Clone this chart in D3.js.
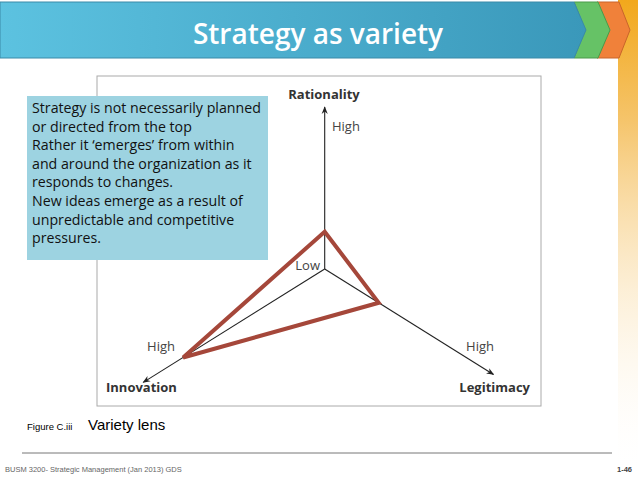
<!DOCTYPE html>
<html><head><meta charset="utf-8">
<script src="https://cdn.jsdelivr.net/npm/d3@7"></script>
<style>body{margin:0;background:#fff}</style>
</head><body>
<svg id="c" width="638" height="478"></svg>
<script>
// axes of the variety lens
const axes = ["Rationality", "Innovation", "Legitimacy"];
const axisAngles = [0, 238, 122];      // degrees, clockwise from up
const axisReach = [162, 214, 199];     // arrow length
const lensValues = [0.23, 0.78, 0.32]; // share of each axis
const noteLines = [
  "Strategy is not necessarily planned",
  "or directed from the top",
  "Rather it \u2018emerges\u2019 from within",
  "and around the organization as it",
  "responds to changes.",
  "New ideas emerge as a result of",
  "unpredictable and competitive",
  "pressures."
];

const svg = d3.select("#c");
const defs = svg.append("defs");
const g1 = defs.append("linearGradient").attr("id", "hd");
g1.append("stop").attr("offset", 0).attr("stop-color", "#5cc2e0");
g1.append("stop").attr("offset", 1).attr("stop-color", "#3a98ba");
const g2 = defs.append("linearGradient").attr("id", "yl").attr("x2", 0).attr("y2", 1);
g2.append("stop").attr("offset", 0).attr("stop-color", "#f2a81c");
g2.append("stop").attr("offset", 0.25).attr("stop-color", "#f5c46a");
g2.append("stop").attr("offset", 1).attr("stop-color", "#fff").attr("stop-opacity", 0);
defs.append("marker").attr("id", "ar").attr("viewBox", "0 0 10 10").attr("refX", 9).attr("refY", 5)
  .attr("markerWidth", 7).attr("markerHeight", 7).attr("orient", "auto")
  .append("path").attr("d", "M0,1L10,5L0,9L3,5Z").attr("fill", "#222");

// header
svg.append("rect").attr("x", 618).attr("y", 0).attr("width", 20).attr("height", 478).attr("fill", "url(#yl)");
svg.append("path").attr("d", "M597,2L619,2L630,30L619,58L597,58L608,30Z").attr("fill", "#f0813a").attr("stroke", "#c9652a");
svg.append("path").attr("d", "M574,2L598,2L610,30L598,58L574,58L585,30Z").attr("fill", "#66c266").attr("stroke", "#4a9a4a");
svg.append("path").attr("d", "M0,2L574,2L586,30L574,58L0,58Z").attr("fill", "url(#hd)").attr("stroke", "#3a8aa8");
svg.append("text").attr("x", 318).attr("y", 44).attr("text-anchor", "middle")
  .attr("font-family", "Open Sans").attr("font-weight", 600).attr("font-size", 28).attr("fill", "#fff")
  .text("Strategy as variety");

// frame
svg.append("rect").attr("x", 97).attr("y", 76).attr("width", 444).attr("height", 330)
  .attr("fill", "#fff").attr("stroke", "#aaa");

const cx = 324.7, cy = 269;
const pt = (i, f) => {
  const a = axisAngles[i] * Math.PI / 180;
  return [cx + Math.sin(a) * axisReach[i] * f, cy - Math.cos(a) * axisReach[i] * f];
};
const line = d3.line();
axes.forEach((name, i) => {
  svg.append("path").attr("d", line([[cx, cy], pt(i, 1)])).attr("stroke", "#222")
    .attr("stroke-width", 1.1).attr("marker-end", "url(#ar)");
});
svg.append("path").attr("d", line(lensValues.map((v, i) => pt(i, v))) + "Z")
  .attr("fill", "none").attr("stroke", "#a5473a").attr("stroke-width", 4).attr("stroke-linejoin", "miter");

const lab = (x, y, t, anchor, bold) => svg.append("text").attr("x", x).attr("y", y).attr("text-anchor", anchor)
  .attr("font-family", "Open Sans").attr("font-size", 13).attr("font-weight", bold ? 700 : 400)
  .attr("fill", bold ? "#333" : "#444").text(t);
lab(324, 99, axes[0], "middle", true);
lab(106, 392, axes[1], "start", true);
lab(530, 392, axes[2], "end", true);
lab(332, 131, "High", "start");
lab(175, 351, "High", "end");
lab(494, 351, "High", "end");
lab(320, 270, "Low", "end");

// note box
svg.append("rect").attr("x", 27).attr("y", 96).attr("width", 241).attr("height", 164).attr("fill", "#9dd3e1");
svg.append("g").selectAll("text").data(noteLines).join("text")
  .attr("x", 32).attr("y", (d, i) => 113 + i * 18.6)
  .attr("font-family", "Open Sans").attr("font-size", 14.2).attr("fill", "#111").text(d => d);

// caption + footer
svg.append("text").attr("x", 27).attr("y", 430).attr("font-family", "Liberation Sans").attr("font-size", 9.5).text("Figure C.iii");
svg.append("text").attr("x", 88).attr("y", 430).attr("font-family", "Liberation Sans").attr("font-size", 15).text("Variety lens");
svg.append("line").attr("x1", 22).attr("x2", 612).attr("y1", 453).attr("y2", 453).attr("stroke", "#777");
svg.append("text").attr("x", 5).attr("y", 472).attr("font-family", "Liberation Sans").attr("font-size", 7.5).attr("fill", "#666")
  .text("BUSM 3200- Strategic Management (Jan 2013) GDS");
svg.append("text").attr("x", 632).attr("y", 472).attr("text-anchor", "end").attr("font-family", "Liberation Sans")
  .attr("font-size", 7.5).attr("font-weight", 700).attr("fill", "#444").text("1-46");
</script>
</body></html>
